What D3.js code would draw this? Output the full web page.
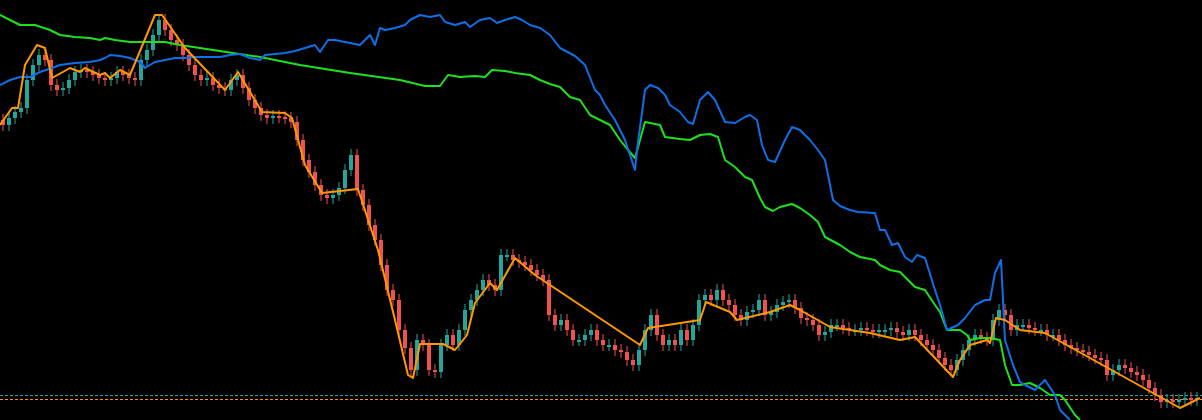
<!DOCTYPE html>
<html>
<head>
<meta charset="utf-8">
<script src="https://cdn.jsdelivr.net/npm/d3@7"></script>
<style>
  html, body { margin: 0; padding: 0; background: #000; }
  svg { display: block; }
</style>
</head>
<body>
<svg id="chart" width="1202" height="420"></svg>
<script>
// closes (price units), one per bar; open is the previous bar's close
var closes = [375,382,388,392,420,435,445,440,415,410,412,420,428,430,428,425,422,420,422,428,
    425,422,420,440,450,465,480,470,460,455,445,435,425,420,422,415,412,410,420,425,
    412,400,392,385,382,384,383,382,378,360,340,328,315,305,302,305,312,330,345,310,
    295,275,260,235,210,200,170,152,130,160,155,130,128,155,165,155,170,190,200,210,
    220,215,210,245,245,240,238,235,230,225,220,185,175,180,170,160,160,165,170,160,
    155,155,150,148,140,135,150,170,185,165,155,160,155,170,160,175,200,205,200,210,
    200,195,185,180,188,190,200,185,188,195,198,200,192,182,180,175,165,168,175,175,
    172,170,170,172,170,168,170,170,172,168,165,170,165,160,155,150,142,135,130,140,
    150,160,165,162,160,180,190,185,170,175,175,172,170,170,165,165,160,155,152,150,
    148,145,142,140,125,130,135,132,128,125,120,112,105,98,100,98,100,102,100,102];
var firstOpen = 380;

// moving lines: [pixel-x of the picture grid, price]
var blueLine = [[0,415],[10,420],[20,423],[30,423],[40,428],[52,432],[60,435],[75,437],[90,438],[100,440],
    [105,442],[110,445],[120,444],[130,442],[140,438],[145,432],[150,435],[155,438],[165,440],[175,442],
    [185,442],[195,443],[220,443],[230,445],[240,446],[250,442],[260,440],[265,445],[285,447],[295,449],
    [305,452],[315,455],[320,448],[328,460],[335,460],[345,458],[360,455],[365,460],[370,465],[375,455],
    [380,472],[385,470],[395,472],[405,475],[410,480],[420,485],[430,483],[440,485],[445,478],[455,475],
    [465,478],[470,473],[480,480],[490,482],[497,477],[505,480],[515,483],[522,480],[530,475],[540,472],
    [550,465],[560,452],[575,444],[585,435],[595,410],[600,405],[605,395],[615,380],[625,360],[635,330],
    [637,350],[645,410],[650,415],[658,412],[665,405],[670,395],[680,388],[688,378],[693,376],[700,400],
    [708,408],[715,400],[725,378],[735,377],[745,383],[750,385],[757,380],[762,355],[768,340],[775,338],
    [785,360],[792,373],[800,370],[810,360],[818,350],[825,340],[833,300],[840,294],[850,290],[858,288],
    [875,287],[880,270],[885,270],[892,255],[898,257],[905,243],[912,238],[917,245],[925,242],[935,210],
    [940,195],[947,170],[958,175],[965,182],[975,195],[985,200],[990,200],[995,227],[1001,240],[1005,160],
    [1013,135],[1020,118],[1025,115],[1035,110],[1040,115],[1045,120],[1055,105],[1060,90],[1070,80]];
var greenLine = [[0,485],[10,480],[20,475],[35,475],[50,470],[60,465],[75,463],[90,462],[100,460],[105,462],
    [115,460],[130,458],[165,458],[180,455],[260,443],[300,435],[350,427],[400,420],[425,414],[440,414],
    [448,425],[460,423],[475,424],[485,423],[492,430],[505,429],[515,427],[530,425],[540,420],[550,416],
    [560,413],[570,403],[580,400],[590,385],[600,380],[610,375],[620,360],[628,350],[635,342],[645,378],
    [660,375],[665,363],[680,361],[690,360],[700,365],[710,366],[718,363],[725,340],[735,333],[745,323],
    [752,320],[760,302],[765,293],[773,289],[780,293],[792,296],[800,292],[810,285],[818,278],[825,263],
    [840,255],[850,248],[860,243],[875,240],[880,235],[890,230],[900,228],[908,220],[915,213],[925,210],
    [935,195],[940,188],[947,170],[960,170],[967,165],[970,160],[980,162],[990,162],[1000,160],[1005,135],
    [1012,115],[1020,115],[1030,117],[1040,112],[1050,105],[1060,105],[1065,100],[1075,85],[1080,80]];
var orangeLine = [[0,375],[12,392],[18,392],[25,435],[37,455],[45,452],[52,422],[70,432],[80,428],[85,432],
    [100,425],[105,427],[110,422],[120,430],[130,425],[155,485],[162,485],[185,452],[225,410],[238,428],
    [262,388],[285,387],[292,382],[305,335],[322,307],[358,311],[378,250],[395,180],[408,125],[413,122],
    [420,156],[443,156],[455,150],[467,165],[475,197],[490,217],[497,210],[515,242],[535,225],[550,215],
    [640,155],[648,172],[700,180],[706,198],[730,188],[737,180],[770,188],[790,195],[800,190],[830,173],
    [870,167],[900,160],[915,163],[953,123],[960,140],[970,155],[987,160],[990,157],[996,182],[1005,180],
    [1020,170],[1045,167],[1180,92],[1200,102]];
var levels = [{ price: 105, color: "#26a69a" }, { price: 101, color: "#ff9800" }];

var width = 1202, height = 420, barStep = 6;
var svg = d3.select("#chart");

var x = d3.scaleLinear().domain([0, width]).range([0, width]);
var y = d3.scaleLinear().domain([80, 500]).range([height, 0]);
function barX(i) { return x(3 + i * barStep); }

svg.append("rect").attr("width", width).attr("height", height).attr("fill", "#000");

// horizontal level lines
svg.selectAll(".level").data(levels).enter().append("line")
    .attr("x1", 0).attr("x2", width)
    .attr("y1", function(d) { return y(d.price) + 0.5; })
    .attr("y2", function(d) { return y(d.price) + 0.5; })
    .attr("stroke", function(d) { return d.color; })
    .attr("stroke-width", 1)
    .attr("stroke-dasharray", "3,2");

// candles
var candles = closes.map(function(c, i) {
    var o = i === 0 ? firstOpen : closes[i - 1];
    return { i: i, o: o, c: c };
});
var g = svg.append("g");
var candle = g.selectAll(".candle").data(candles).enter().append("g");
candle.append("line")
    .attr("x1", function(d) { return barX(d.i); })
    .attr("x2", function(d) { return barX(d.i); })
    .attr("y1", function(d) { return y(Math.max(d.o, d.c)) - 6; })
    .attr("y2", function(d) { return y(Math.min(d.o, d.c)) + 6; })
    .attr("stroke", function(d) { return d.c >= d.o ? "#26a69a" : "#ef5350"; })
    .attr("stroke-width", 1);
candle.append("rect")
    .attr("x", function(d) { return barX(d.i) - 2; })
    .attr("width", 4)
    .attr("y", function(d) { return y(Math.max(d.o, d.c)); })
    .attr("height", function(d) { return Math.max(2, Math.abs(y(d.o) - y(d.c))); })
    .attr("fill", function(d) { return d.c >= d.o ? "#26a69a" : "#ef5350"; });

var line = d3.line()
    .x(function(d) { return x(d[0]); })
    .y(function(d) { return y(d[1]); });

[[greenLine, "#1ee01e"], [blueLine, "#0f6fe6"], [orangeLine, "#ff9800"]].forEach(function(s) {
    svg.append("path").datum(s[0])
        .attr("d", line)
        .attr("fill", "none")
        .attr("stroke", s[1])
        .attr("stroke-width", 2)
        .attr("stroke-linejoin", "round");
});
</script>
</body>
</html>
